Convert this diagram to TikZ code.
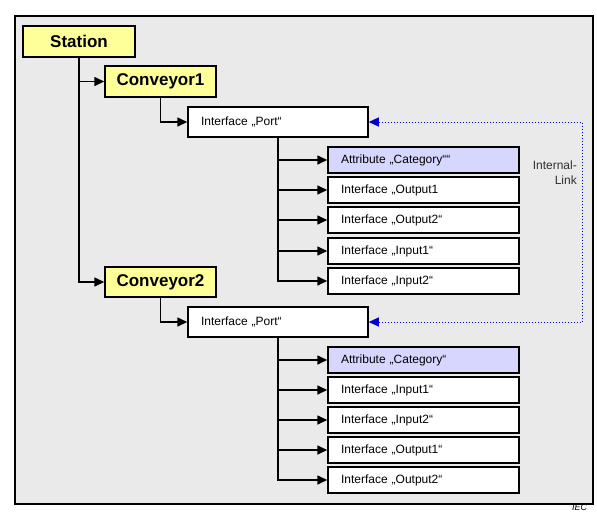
\documentclass[tikz,border=0pt]{standalone}
\usepackage{fontspec}
\setmainfont{Liberation Sans}
\usepackage{xcolor}
\usepackage{tikz}
\definecolor{bggray}{RGB}{234,234,234}
\definecolor{objyellow}{RGB}{255,255,153}
\definecolor{attrblue}{RGB}{214,214,255}
\definecolor{linkblue}{RGB}{0,0,204}
\definecolor{labelgray}{RGB}{48,48,48}
\usetikzlibrary{arrows.meta}

\tikzset{
  objbox/.style={draw=black, line width=1.5pt, fill=objyellow, minimum width=111pt,
    minimum height=31pt, inner sep=0pt, font=\fontsize{17}{20}\selectfont\bfseries},
  portbox/.style={draw=black, line width=1.5pt, fill=white, minimum height=30pt,
    text width=154pt, inner xsep=13pt, inner ysep=0pt, align=left,
    font=\fontsize{12}{14}\selectfont},
  childbox/.style={portbox, minimum height=26pt, text width=165pt},
  attrbox/.style={childbox, fill=attrblue},
  tree/.style={draw=black, line width=1.6pt, -{Triangle[length=10pt,width=9pt]}},
  link/.style={draw=linkblue, line width=1pt, dotted,
    {Triangle[length=10pt,width=9pt]}-{Triangle[length=10pt,width=9pt]}}
}

\begin{document}
\begin{tikzpicture}[x=1pt,y=-1pt]
    \useasboundingbox (0,0) rectangle (597,512);
    % Frame
    \draw[fill=bggray, line width=1.2pt] (15,16) rectangle (593,504);
    \node[anchor=north west, inner sep=0pt, font=\fontsize{9}{11}\selectfont\itshape] (iec) at (572,504) {IEC};

    % Objects
    \node[objbox, minimum width=112pt] (station) at (79,41.5) {Station};
    \node[objbox] (conv1) at (160.5,81.5) {Conveyor1};
    \node[objbox, minimum height=30pt] (conv2) at (160.5,282) {Conveyor2};
    \draw[tree] (station.south) |- (conv1.west);
    \draw[tree] (station.south) |- (conv2.west);

    % Ports
    \node[portbox] (port1) at (278,122) {Interface „Port“};
    \node[portbox] (port2) at (278,322) {Interface „Port“};
    \draw[tree] (conv1.south) |- (port1.west);
    \draw[tree] (conv2.south) |- (port2.west);

    % Children of the first port
    \node[attrbox] (attr1) at (423.5,160) {Attribute „Category““};
    \draw[tree] (port1.south) |- (attr1.west);
    \foreach \name/\txt/\y in {out11/Output1/190, out12/Output2“/220, in11/Input1“/251, in12/Input2“/281} {
        \node[childbox] (\name) at (423.5,\y) {Interface „\txt};
        \draw[tree] (port1.south) |- (\name.west);
    }

    % Children of the second port
    \node[attrbox] (attr2) at (423.5,360) {Attribute „Category“};
    \draw[tree] (port2.south) |- (attr2.west);
    \foreach \name/\txt [count=\i] in {in21/Input1, in22/Input2, out21/Output1, out22/Output2} {
        \node[childbox] (\name) at (423.5,360+\i*30) {Interface „\txt“};
        \draw[tree] (port2.south) |- (\name.west);
    }

    % Internal link
    \coordinate (linkx) at (582,0);
    \draw[link] (port1.east) -- (port1.east -| linkx) -- (port2.east -| linkx) -- (port2.east);
    \node[anchor=east, align=right, inner sep=0pt, text=labelgray,
        font=\fontsize{12}{15}\selectfont] (linklabel) at (577,173) {Internal-\\Link};
\end{tikzpicture}
\end{document}
